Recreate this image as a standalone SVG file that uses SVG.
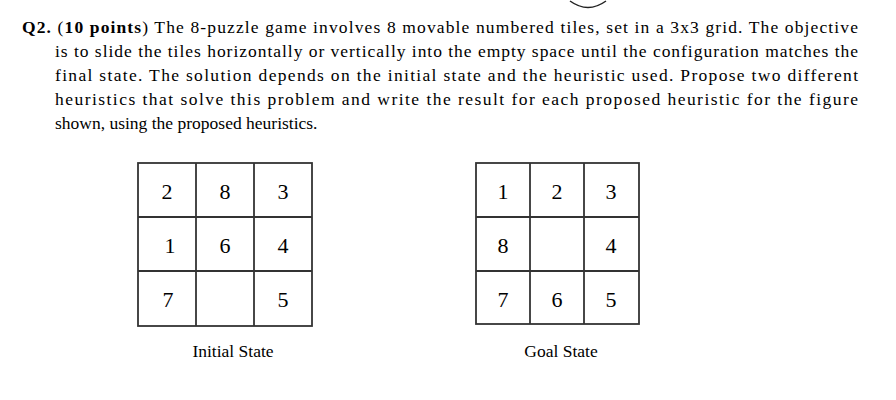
<svg xmlns="http://www.w3.org/2000/svg" width="896" height="400" viewBox="0 0 896 400">
<style>
text{font-family:"Liberation Serif","Times New Roman",serif;fill:#000}
.p{font-size:17.5px}
.n{font-size:22px;text-anchor:middle}
.g{fill:#fff;stroke:#333;stroke-width:1.8}
.l{stroke:#333;stroke-width:1.8}
</style>
<rect width="896" height="400" fill="#fff"/>
<path d="M570,1 Q588,14 606,1" fill="none" stroke="#222" stroke-width="1.5"/>
<g id="question">
<text class="p" x="22" y="33" textLength="836" lengthAdjust="spacing"><tspan font-weight="bold">Q2.</tspan> (<tspan font-weight="bold">10 points</tspan>) The 8-puzzle game involves 8 movable numbered tiles, set in a 3x3 grid. The objective</text>
<text class="p" x="55" y="57" textLength="803" lengthAdjust="spacing">is to slide the tiles horizontally or vertically into the empty space until the configuration matches the</text>
<text class="p" x="55" y="81" textLength="803" lengthAdjust="spacing">final state. The solution depends on the initial state and the heuristic used. Propose two different</text>
<text class="p" x="55" y="105" textLength="803" lengthAdjust="spacing">heuristics that solve this problem and write the result for each proposed heuristic for the figure</text>
<text class="p" x="55" y="129">shown, using the proposed heuristics.</text>
</g>
<g id="initial">
<rect class="g" x="138" y="163" width="174" height="163"/>
<line class="l" x1="196" y1="163" x2="196" y2="326"/><line class="l" x1="254" y1="163" x2="254" y2="326"/>
<line class="l" x1="138" y1="217" x2="312" y2="217"/><line class="l" x1="138" y1="271" x2="312" y2="271"/>
<text class="n" x="167" y="199">2</text><text class="n" x="225" y="199">8</text><text class="n" x="283" y="199">3</text>
<text class="n" x="170" y="253">1</text><text class="n" x="225" y="253">6</text><text class="n" x="283" y="253">4</text>
<text class="n" x="168" y="307">7</text><text class="n" x="283" y="307">5</text>
<text class="p" x="233" y="357" text-anchor="middle">Initial State</text>
</g>
<g id="goal">
<rect class="g" x="476" y="163" width="163" height="161"/>
<line class="l" x1="530" y1="163" x2="530" y2="324"/><line class="l" x1="584" y1="163" x2="584" y2="324"/>
<line class="l" x1="476" y1="217" x2="639" y2="217"/><line class="l" x1="476" y1="271" x2="639" y2="271"/>
<text class="n" x="503" y="199">1</text><text class="n" x="557" y="199">2</text><text class="n" x="611" y="199">3</text>
<text class="n" x="503" y="253">8</text><text class="n" x="611" y="253">4</text>
<text class="n" x="503" y="307">7</text><text class="n" x="557" y="307">6</text><text class="n" x="611" y="307">5</text>
<text class="p" x="561" y="357" text-anchor="middle">Goal State</text>
</g>
</svg>
